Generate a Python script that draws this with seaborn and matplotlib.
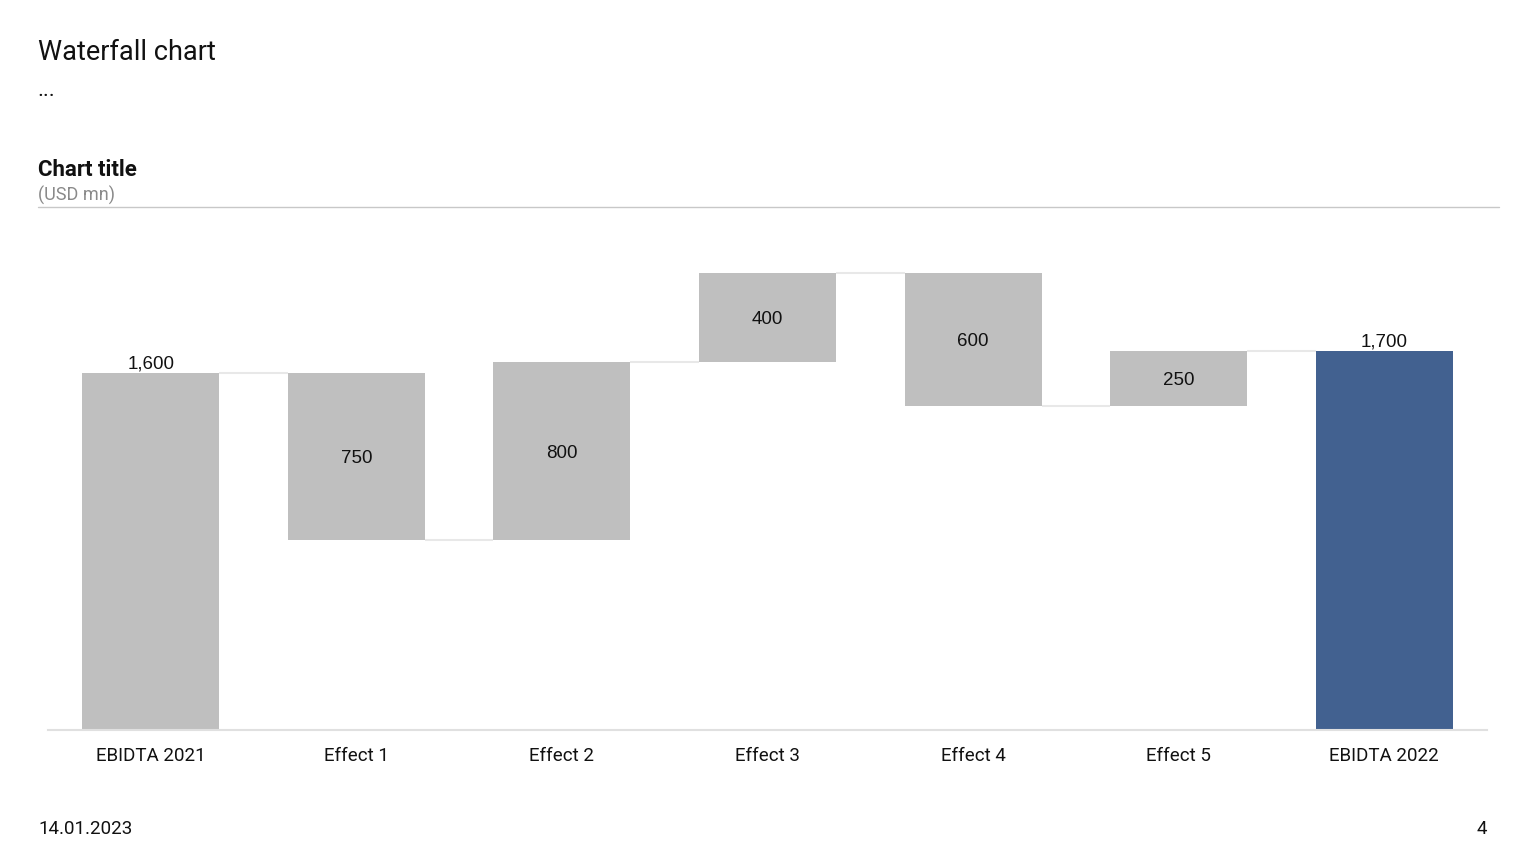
import matplotlib
matplotlib.use("Agg")
import matplotlib.pyplot as plt
import seaborn as sns
import numpy as np
import pandas as pd

# ---- data ----
categories = ["EBIDTA 2021", "Effect 1", "Effect 2", "Effect 3", "Effect 4", "Effect 5", "EBIDTA 2022"]
start_value = 1600
effects = [-750, 800, 400, -600, 250]
end_value = 1700

sns.set_theme(style="white")
plt.rcParams["font.family"] = ["Roboto", "DejaVu Sans"]

# waterfall geometry from the data
levels = [start_value]
for e in effects:
    levels.append(levels[-1] + e)
bottoms = [0]
heights = [start_value]
for i, e in enumerate(effects):
    prev = levels[i]
    cur = levels[i + 1]
    bottoms.append(min(prev, cur))
    heights.append(abs(e))
bottoms.append(0)
heights.append(end_value)
label_vals = [start_value] + [abs(e) for e in effects] + [end_value]

df = pd.DataFrame({"cat": categories, "height": heights, "bottom": bottoms})

W, H = 1536, 864
fig = plt.figure(figsize=(W / 100, H / 100), dpi=100)
fig.patch.set_facecolor("white")

ax_left = 48 / W
ax_right = 1487 / W
ax_bottom = 1 - 730 / H
ymax = 2200
px_per_unit = (730 - 373) / 1600
ax_top_px = 730 - ymax * px_per_unit
ax = fig.add_axes([ax_left, ax_bottom, ax_right - ax_left, (730 - ax_top_px) / H])

GRAY = "#bfbfbf"
BLUE = "#426190"

sns.barplot(data=df, x="cat", y="height", bottom=df["bottom"].to_numpy(),
            color=GRAY, saturation=1, width=0.666, ax=ax, linewidth=0, order=categories)
ax.patches[-1].set_facecolor(BLUE)

ax.set_xlim(-0.5, len(categories) - 0.5)
ax.set_ylim(0, ymax)

# connectors
half = 0.666 / 2
for i in range(len(categories) - 1):
    lvl = levels[i]
    ax.plot([i + half, i + 1 - half], [lvl, lvl], color="#e8e8e8", lw=1.5,
            solid_capstyle="butt", zorder=0.5)

# value labels
vfont = ["Liberation Sans", "DejaVu Sans"]
for i, (b, h, v) in enumerate(zip(bottoms, heights, label_vals)):
    txt = f"{v:,}"
    if i == 0 or i == len(categories) - 1:
        ax.text(i, b + h + 3, txt, ha="center", va="bottom", fontsize=13.5,
                family=vfont, color="#111111")
    else:
        ax.text(i, b + h / 2 - 9, txt, ha="center", va="center", fontsize=13.5,
                family=vfont, color="#111111")

for s in ["top", "right", "left"]:
    ax.spines[s].set_visible(False)
ax.spines["bottom"].set_color("#e0e0e0")
ax.spines["bottom"].set_linewidth(1.5)
ax.set_yticks([])
ax.set_xlabel("")
ax.set_ylabel("")
ax.tick_params(axis="x", length=0, pad=12, labelsize=13.5, colors="#111111")

# header / footer
fig.text(38 / W, 1 - 52 / H, "Waterfall chart", fontsize=19.5, va="center", ha="left", color="#111111")
fig.text(37 / W, 1 - 91 / H, "...", fontsize=16, va="center", ha="left", color="#111111")
fig.text(38 / W, 1 - 170 / H, "Chart title", fontsize=16, fontweight="bold", va="center", ha="left", color="#111111")
fig.text(38 / W, 1 - 195 / H, "(USD mn)", fontsize=13, va="center", ha="left", color="#8a8a8a")
fig.add_artist(plt.Line2D([38 / W, 1499 / W], [1 - 207 / H, 1 - 207 / H], color="#c8c8c8", lw=1))
fig.text(38 / W, 1 - 829 / H, "14.01.2023", fontsize=13.5, va="center", ha="left", color="#111111")
fig.text(1487 / W, 1 - 829 / H, "4", fontsize=13.5, va="center", ha="right", color="#111111")

fig.savefig("out.png", dpi=100, facecolor="white")
